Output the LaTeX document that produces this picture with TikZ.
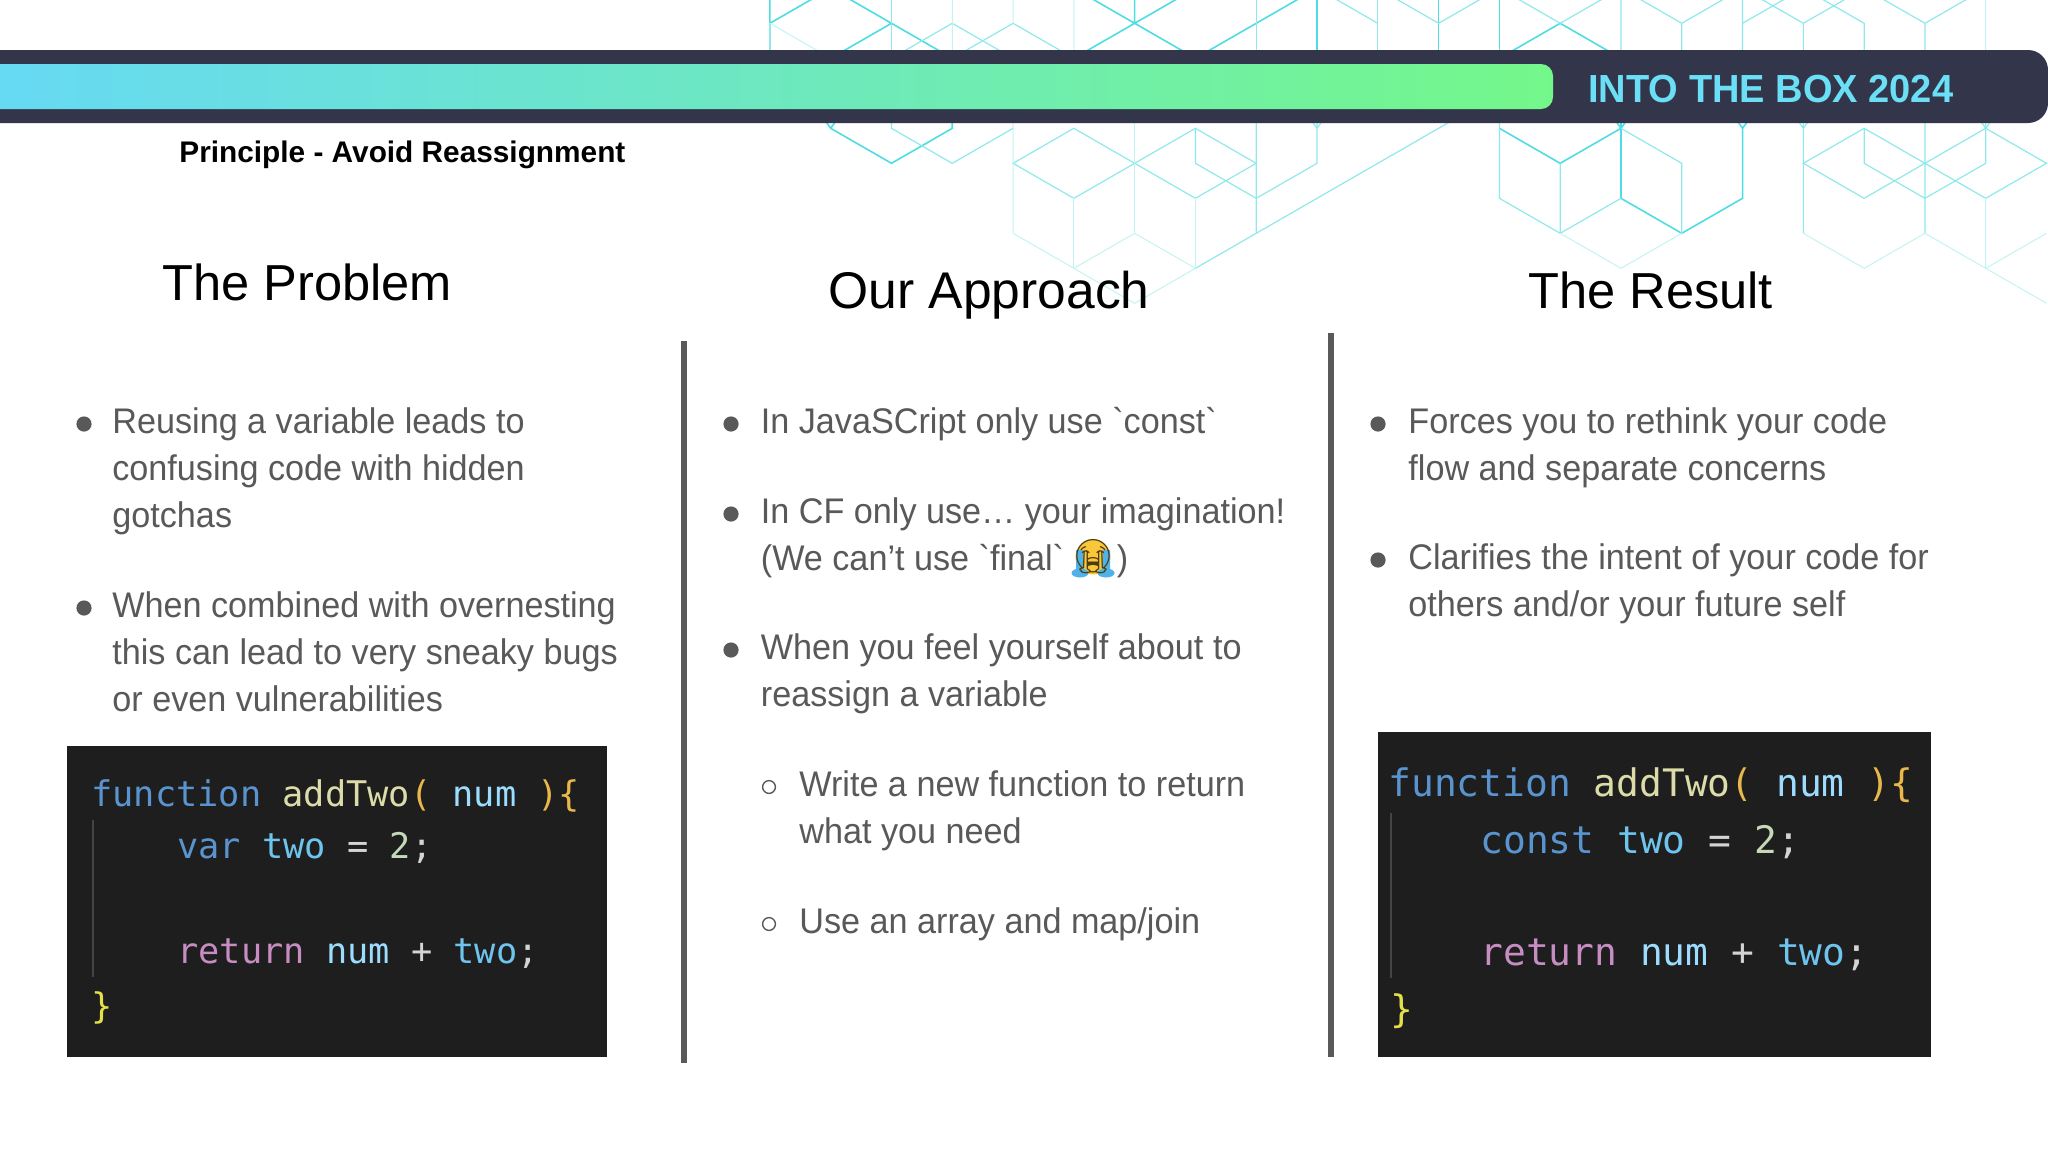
\documentclass[tikz,border=0pt]{standalone}
\usepackage{fontspec}
\setmainfont{Liberation Sans}
\newfontfamily\bodyfont[FakeStretch=0.96]{Liberation Sans}
\newfontfamily\brandfont[FakeStretch=0.97]{Liberation Sans Bold}
\newfontfamily\codefont{DejaVu Sans Mono}
\newfontfamily\emojifont{Noto Emoji}
\definecolor{barC}{HTML}{33364A}
\definecolor{gradL}{HTML}{66D9F5}
\definecolor{gradR}{HTML}{74F78A}
\definecolor{introC}{HTML}{6ADFF5}
\definecolor{bodyC}{HTML}{595959}
\definecolor{divC}{HTML}{595959}
\definecolor{hexA}{HTML}{4FDDE4}
\definecolor{hexB}{HTML}{8FE9EC}
\definecolor{hexC}{HTML}{C4F3F4}
\definecolor{codeBg}{HTML}{1E1E1E}
\definecolor{cKey}{HTML}{5A94CE}
\definecolor{cFn}{HTML}{DCDCAA}
\definecolor{cPar}{HTML}{E8B84A}
\definecolor{cVar}{HTML}{9CDCFE}
\definecolor{cTwo}{HTML}{6FC4EE}
\definecolor{cRet}{HTML}{C78DC2}
\definecolor{cOp}{HTML}{D4D4D4}
\definecolor{cNum}{HTML}{C5D8B8}
\definecolor{cBr}{HTML}{E3E04A}
\definecolor{guide}{HTML}{444444}
\definecolor{emoY}{HTML}{FBC73A}
\definecolor{emoB}{HTML}{4FB3EA}
\tikzset{
  x=0.5pt,y=-0.5pt,
  hexa/.style={draw=hexA,line width=0.8pt,line join=miter},
  hexb/.style={draw=hexB,line width=0.6pt},
  hexc/.style={draw=hexC,line width=0.5pt},
  head/.style={anchor=base west,inner sep=0pt,font=\fontsize{25.3}{30}\selectfont,text=black},
  para/.style={anchor=north west,inner sep=0pt,align=left,text=bodyC,font=\bodyfont\fontsize{17.8}{23.5}\selectfont},
  dot/.style={circle,fill=bodyC,inner sep=0pt,minimum size=7.6pt},
  ring/.style={circle,draw=bodyC,line width=0.7pt,inner sep=0pt,minimum size=6.4pt},
  divider/.style={draw=divC,line width=2.6pt},
  codebox/.style={fill=codeBg,draw=none},
  codeA/.style={anchor=base west,inner sep=0pt,font=\codefont\fontsize{17.65}{20}\selectfont},
  codeB/.style={anchor=base west,inner sep=0pt,font=\codefont\fontsize{18.95}{20}\selectfont},
}
% hex lattice: #1 = i, #2 = j
\newcommand\hx[2]{({769.9+60.79*(#1)},{23.3+35*(#2)})}
\newcommand\ps{\rule{0pt}{14pt}}
\begin{document}
\begin{tikzpicture}
\useasboundingbox (0,0) rectangle (2048,1152);
\fill[white] (0,0) rectangle (2048,1152);
\begin{scope}
\clip (0,0) rectangle (2048,1152);
% bright strokes, top
\draw[hexa] \hx{0}{-1} -- \hx{0}{0} -- \hx{1}{-1} \hx{1}{-1} -- \hx{2}{0} -- \hx{3}{1} \hx{2}{0} -- \hx{1}{1};
\draw[hexa] \hx{5}{-1} -- \hx{6}{0} -- \hx{7}{1} \hx{7}{-1} -- \hx{6}{0} -- \hx{5}{1} \hx{6}{-1} -- \hx{6}{0};
\draw[hexa] \hx{9}{-1} -- \hx{8}{0} -- \hx{7}{1};
\draw[hexa] \hx{11}{-1} -- \hx{11}{1} \hx{12}{-1} -- \hx{12}{1} \hx{9}{-1} -- \hx{9}{1};
\draw[hexa] \hx{13}{0} -- \hx{12}{1} \hx{13}{0} -- \hx{14}{1};
% mid strokes, top
\draw[hexb] \hx{0}{0} -- \hx{0}{1} \hx{2}{-1} -- \hx{2}{1} \hx{8}{-1} -- \hx{8}{1} \hx{10}{-1} -- \hx{10}{1};
\draw[hexb] \hx{9}{-1} -- \hx{10}{0} \hx{10}{-1} -- \hx{11}{0} -- \hx{12}{-1};
\draw[hexb] \hx{12}{-1} -- \hx{13}{0} -- \hx{14}{-1} \hx{14}{-1} -- \hx{14}{1};
\draw[hexb] \hx{14}{-1} -- \hx{15}{0} -- \hx{16}{-1} \hx{15}{0} -- \hx{15}{1};
\draw[hexb] \hx{16}{-1} -- \hx{16}{1} \hx{16}{0} -- \hx{17}{-1} \hx{16}{-1} -- \hx{17}{0} -- \hx{18}{-1};
\draw[hexb] \hx{17}{0} -- \hx{17}{1} \hx{17}{-1} -- \hx{18}{0} -- \hx{18}{1};
\draw[hexb] \hx{18}{-1} -- \hx{19}{0} -- \hx{20}{-1} \hx{19}{0} -- \hx{19}{1};
\draw[hexb] \hx{3}{0} -- \hx{2}{1} \hx{3}{0} -- \hx{4}{1} \hx{4}{0} -- \hx{3}{1} \hx{4}{0} -- \hx{5}{1};
% pale strokes, top
\draw[hexc] \hx{0}{0} -- \hx{1}{1} \hx{3}{-1} -- \hx{3}{1} \hx{4}{-1} -- \hx{4}{0} \hx{5}{-1} -- \hx{5}{1} \hx{20}{-1} -- \hx{20}{1};
% lower left cluster
\draw[hexa] \hx{1}{3} -- \hx{2}{4} -- \hx{3}{3} -- \hx{3}{2} \hx{1}{3} -- ++(-10,-14) \hx{1}{3} -- ++(10,-14);
\draw[hexb] \hx{2}{2} -- \hx{2}{3} -- \hx{3}{4} -- \hx{4}{3};
\draw[hexb] \hx{5}{3} -- \hx{4}{4} -- \hx{5}{5} -- \hx{6}{4} -- cycle;
\draw[hexb] \hx{6}{4} -- \hx{7}{3} -- \hx{8}{4} -- \hx{7}{5} -- cycle;
\draw[hexb] \hx{7}{3} -- \hx{7}{4} -- \hx{8}{5} -- \hx{9}{4} -- \hx{9}{2};
\draw[hexb] \hx{8}{2} -- \hx{8}{6} -- \hx{7}{7} -- \hx{12}{2};
\draw[hexb] \hx{9}{3} -- ++(-10,-14) \hx{9}{3} -- ++(10,-14);
\draw[hexc] \hx{4}{2} -- \hx{4}{6} -- \hx{5}{7} -- \hx{6}{8} -- \hx{7}{7} -- \hx{6}{6} -- \hx{5}{7};
\draw[hexc] \hx{6}{2} -- \hx{6}{6} \hx{5}{5} -- \hx{5}{7} \hx{7}{5} -- \hx{7}{7};
% right cluster
\draw[hexa] \hx{12}{3} -- \hx{13}{4} -- \hx{14}{3} -- ++(10,-14) \hx{14}{3} -- ++(-10,-14);
\draw[hexa] \hx{14}{2} -- \hx{14}{5} -- \hx{15}{6} -- \hx{16}{5} -- \hx{16}{3} -- ++(-10,-14) \hx{16}{3} -- ++(10,-14);
\draw[hexb] \hx{12}{2} -- \hx{12}{5} -- \hx{13}{6} -- \hx{14}{5} \hx{13}{4} -- \hx{13}{6};
\draw[hexb] \hx{14}{3} -- \hx{15}{4} -- \hx{15}{6};
\draw[hexc] \hx{13}{6} -- \hx{14}{7} -- \hx{15}{6};
\draw[hexb] \hx{17}{3} -- ++(-10,-14) \hx{17}{3} -- ++(10,-14) \hx{17}{2} -- \hx{17}{6};
\draw[hexb] \hx{18}{3} -- \hx{17}{4} -- \hx{18}{5} -- \hx{19}{4} -- cycle;
\draw[hexb] \hx{18}{3} -- \hx{18}{4} -- \hx{19}{5} -- \hx{20}{4} -- \hx{20}{2};
\draw[hexb] \hx{19}{2} -- \hx{19}{6} \hx{19}{4} -- \hx{20}{3} -- \hx{21}{4} -- \hx{20}{5} -- \hx{19}{4};
\draw[hexb] \hx{20}{3} -- ++(-10,-14) \hx{20}{3} -- ++(10,-14);
\draw[hexc] \hx{17}{6} -- \hx{18}{7} -- \hx{19}{6} -- \hx{20}{7} -- \hx{21}{6} \hx{20}{5} -- \hx{20}{7} -- \hx{21}{8};
\end{scope}
% bar
\fill[barC,rounded corners=10pt] (-40,50) rectangle (2048,123);
\shade[left color=gradL,right color=gradR,rounded corners=6pt] (-20,64) rectangle (1553,109);
\node[anchor=base west,inner sep=0pt,text=introC,font=\brandfont\fontsize{19.6}{24}\selectfont] (brand) at (1588,102) {INTO THE BOX 2024};
\node[anchor=base west,inner sep=0pt,text=black,font=\bfseries\fontsize{14.9}{18}\selectfont] (principle) at (179,162.5) {Principle - Avoid Reassignment};
% headings
\node[head] (h1) at (162,300.5) {The Problem};
\node[head,font=\fontsize{25.8}{30}\selectfont] (h2) at (828,308.5) {Our Approach};
\node[head] (h3) at (1528,308.5) {The Result};
% dividers
\coordinate (d1t) at (684,341); \coordinate (d1b) at (684,1063);
\coordinate (d2t) at (1331,333); \coordinate (d2b) at (1331,1057);
\draw[divider] (d1t) -- (d1b);
\draw[divider] (d2t) -- (d2b);
% column 1
\node[dot] (b11) at (84,424) {};
\node[para] (p11) at (112,405.3) {\ps Reusing a variable leads to\\confusing code with hidden\\gotchas};
\node[dot] (b12) at (84,608) {};
\node[para] (p12) at (112,589.3) {\ps When combined with overnesting\\this can lead to very sneaky bugs\\or even vulnerabilities};
% column 2
\node[dot] (b21) at (731,424) {};
\node[para] (p21) at (760.5,405.3) {\ps In JavaSCript only use `const`};
\node[dot] (b22) at (731,514) {};
\node[para] (p22) at (760.5,495.3) {\ps In CF only use… your imagination!\\(We can’t use `final` \hspace{21.6pt})};
% crying-face emoji, set over a coloured face
\fill[emoY] (1093,557) circle[radius=17.5];
\fill[emoB] (1076,550) rectangle (1083,571) (1103,550) rectangle (1110,571);
\fill[emoB] (1080,573) ellipse[x radius=8.5,y radius=4.5] (1106,573) ellipse[x radius=8.5,y radius=4.5];
\node[inner sep=0pt,text=black!70!emoY,font=\emojifont\fontsize{16.5}{20}\selectfont] (emo) at (1093,557) {😭};
\node[dot] (b23) at (731,650) {};
\node[para] (p23) at (760.5,631.3) {\ps When you feel yourself about to\\reassign a variable};
\node[ring] (b24) at (769,787) {};
\node[para] (p24) at (799,768.3) {\ps Write a new function to return\\what you need};
\node[ring] (b25) at (769,924) {};
\node[para] (p25) at (799,905.3) {\ps Use an array and map/join};
% column 3
\node[dot] (b31) at (1378,424) {};
\node[para] (p31) at (1408,405.3) {\ps Forces you to rethink your code\\flow and separate concerns};
\node[dot] (b32) at (1378,560) {};
\node[para] (p32) at (1408,541.3) {\ps Clarifies the intent of your code for\\others and/or your future self};
% code box 1
\fill[codebox] (67,746) rectangle (607,1057);
\draw[guide,line width=0.7pt] (93,820) -- (93,977);
\node[codeA] (c11) at (91,806) {\textcolor{cKey}{function} \textcolor{cFn}{addTwo}\textcolor{cPar}{(} \textcolor{cVar}{num} \textcolor{cPar}{)\{}};
\node[codeA] (c12) at (177,858) {\textcolor{cKey}{var} \textcolor{cTwo}{two} \textcolor{cOp}{=} \textcolor{cNum}{2}\textcolor{cOp}{;}};
\node[codeA] (c13) at (177,963) {\textcolor{cRet}{return} \textcolor{cVar}{num} \textcolor{cOp}{+} \textcolor{cTwo}{two}\textcolor{cOp}{;}};
\node[codeA] (c14) at (91,1018) {\textcolor{cBr}{\}}};
% code box 2
\fill[codebox] (1378,732) rectangle (1931,1057);
\draw[guide,line width=0.7pt] (1391,813) -- (1391,978);
\node[codeB] (c21) at (1388,796) {\textcolor{cKey}{function} \textcolor{cFn}{addTwo}\textcolor{cPar}{(} \textcolor{cVar}{num} \textcolor{cPar}{)\{}};
\node[codeB] (c22) at (1480,853) {\textcolor{cKey}{const} \textcolor{cTwo}{two} \textcolor{cOp}{=} \textcolor{cNum}{2}\textcolor{cOp}{;}};
\node[codeB] (c23) at (1480,965) {\textcolor{cRet}{return} \textcolor{cVar}{num} \textcolor{cOp}{+} \textcolor{cTwo}{two}\textcolor{cOp}{;}};
\node[codeB] (c24) at (1390,1022) {\textcolor{cBr}{\}}};
\end{tikzpicture}
\end{document}
